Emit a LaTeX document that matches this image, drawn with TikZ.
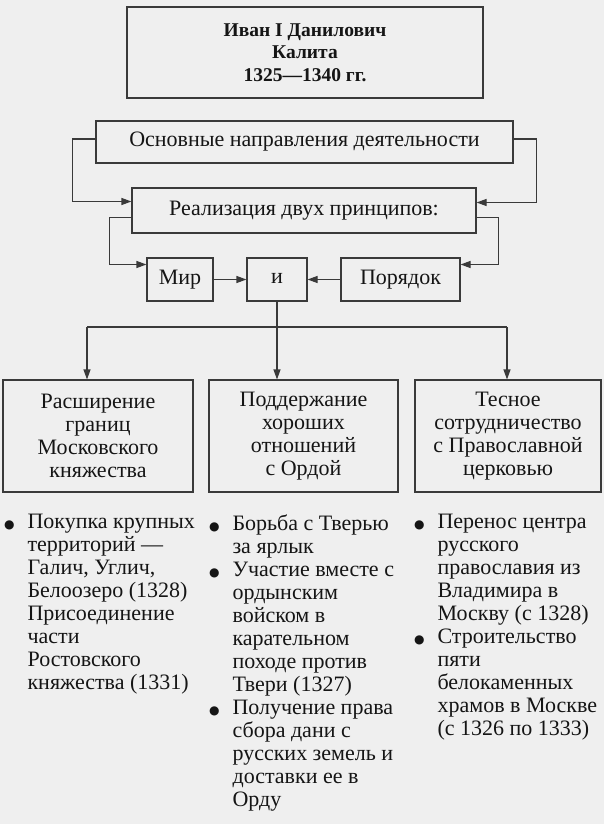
\documentclass[tikz,border=0pt]{standalone}
\usepackage{fontspec}
\setmainfont{Liberation Serif}
\newfontfamily\symfont{DejaVu Sans}
\usetikzlibrary{arrows.meta}
\definecolor{cline}{HTML}{3A3A3A}
\definecolor{cpaper}{HTML}{EFEFEF}
\definecolor{cink}{HTML}{151515}
\newcommand{\dotitem}{\leavevmode\llap{{\symfont\fontsize{12}{12}\selectfont ●}\hspace{13pt}}}
\tikzset{
  every picture/.style={line width=1.1pt},
  frame/.style={draw=cline, inner sep=0pt, align=center, text=cink, font=\fontsize{22}{23}\selectfont},
  arrow/.style={-{Triangle[length=10pt,width=7pt]}, draw=cline},
  col/.style={anchor=north west, inner sep=0pt, align=left, text=cink, font=\fontsize{22}{23}\selectfont},
}

\begin{document}
\begin{tikzpicture}[x=1pt, y=-1pt]
  \fill[cpaper] (0,0) rectangle (604,824);
  \useasboundingbox (0,0) rectangle (604,824);
  % top of the scheme
  \node[frame, minimum width=356pt, minimum height=91pt, text depth=-6pt, font=\bfseries\fontsize{19.5}{22.5}\selectfont] (ruler) at (305,52.5) {Иван I Данилович\\Калита\\1325—1340 гг.};
  \node[frame, minimum width=417pt, minimum height=42pt] (main) at (304.5,142) {Основные направления деятельности};
  \node[frame, minimum width=344pt, minimum height=45pt] (real) at (304,210.5) {Реализация двух принципов:};
  \node[frame, minimum width=66pt, minimum height=43pt] (mir) at (180,279.5) {Мир};
  \node[frame, minimum width=60pt, minimum height=43pt] (and) at (277,279.5) {\raisebox{3pt}{и}};
  \node[frame, minimum width=119pt, minimum height=43pt] (order) at (400.5,279.5) {Порядок};
  \draw[arrow] ([yshift=3pt]main.west) -- ++(-23,0) |- ([yshift=9pt]real.west);
  \draw[arrow] ([yshift=3pt]main.east) -- ++(23,0) |- ([yshift=8pt]real.east);
  \draw[arrow] ([yshift=-7pt]real.west) -- ++(-22,0) |- ([yshift=15pt]mir.west);
  \draw[arrow] ([yshift=-7pt]real.east) -- ++(22,0) |- ([yshift=15pt]order.east);
  \draw[arrow] (mir) -- (and);
  \draw[arrow] (order) -- (and);
  % three directions
  \node[frame, minimum width=190pt, minimum height=112pt] (b1) at (98,436) {Расширение\\границ\\Московского\\княжества};
  \node[frame, minimum width=189pt, minimum height=112pt] (b2) at (303.5,436) {Поддержание\\хороших\\отношений\\с Ордой};
  \node[frame, minimum width=186pt, minimum height=112pt] (b3) at (508,436) {Тесное\\сотрудничество\\с Православной\\церковью};
  \coordinate (d1) at (87,327);
  \coordinate (d3) at (507,327);
  \draw[cline] (d1) -- (d3);
  \draw[arrow] (d1) -- (d1 |- b1.north);
  \draw[arrow] (and) -- (and |- b2.north);
  \draw[arrow] (d3) -- (d3 |- b3.north);
  % lists
  \node[col] (c1) at (27,514) {\dotitem Покупка крупных\\территорий —\\Галич, Углич,\\Белоозеро (1328)\\Присоединение\\части\\Ростовского\\княжества (1331)};
  \node[col] (c2) at (232,514) {\dotitem Борьба с Тверью\\за ярлык\\\dotitem Участие вместе с\\ордынским\\войском в\\карательном\\походе против\\Твери (1327)\\\dotitem Получение права\\сбора дани с\\русских земель и\\доставки ее в\\Орду};
  \node[col] (c3) at (437,514) {\dotitem Перенос центра\\русского\\православия из\\Владимира в\\Москву (с 1328)\\\dotitem Строительство\\пяти\\белокаменных\\храмов в Москве\\(с 1326 по 1333)};
\end{tikzpicture}
\end{document}
